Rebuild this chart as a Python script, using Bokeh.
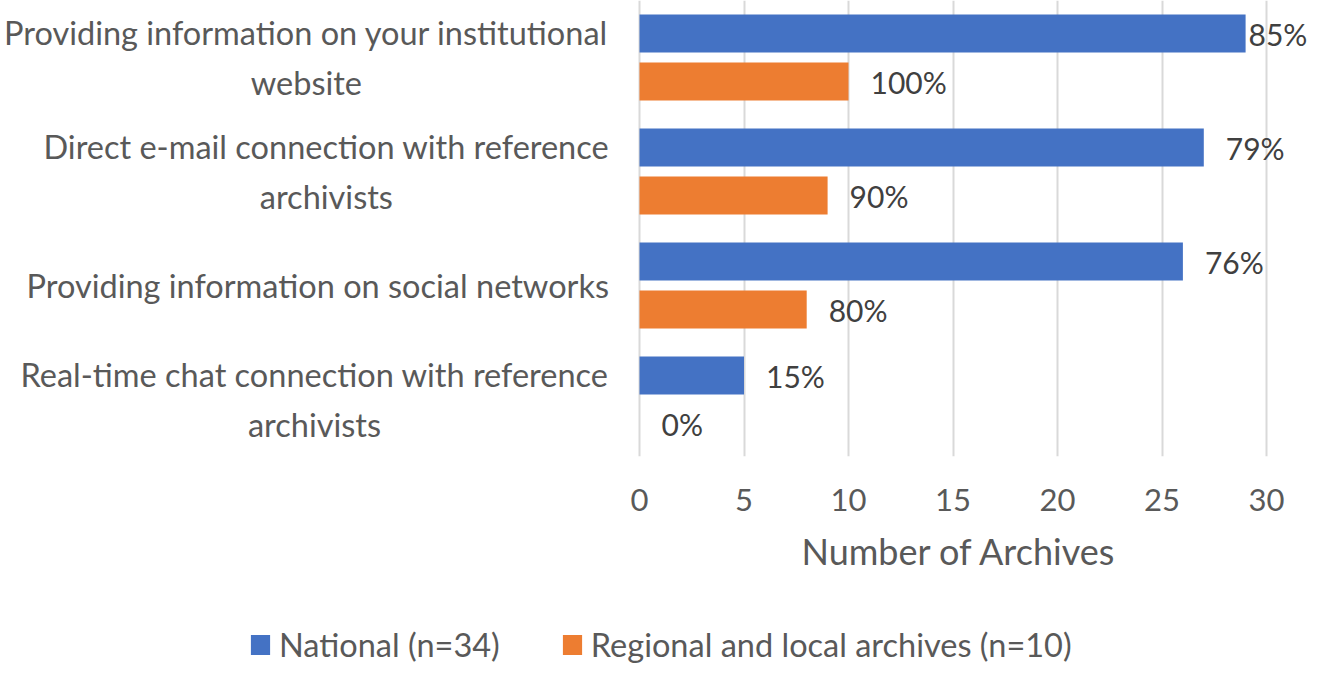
from bokeh.plotting import figure
from bokeh.models import ColumnDataSource, Range1d, FixedTicker, Legend, LegendItem, Title
from bokeh.layouts import column
from bokeh.transform import dodge
from bokeh.embed import file_html
from bokeh.resources import INLINE
from bokeh.core.properties import value

# ---- data ----
categories = [
    "Providing information on your institutional\nwebsite",
    "Direct e-mail connection with reference\narchivists",
    "Providing information on social networks",
    "Real-time chat connection with reference\narchivists",
]
national = [29, 27, 26, 5]
regional = [10, 9, 8, 0]
national_pct = ["85%", "79%", "76%", "15%"]
regional_pct = ["100%", "90%", "80%", "0%"]
series_names = ["National (n=34)", "Regional and local archives (n=10)"]
x_ticks = [0, 5, 10, 15, 20, 25, 30]
x_title = "Number of Archives"

# ---- style ----
FONT = "Lato"
BLUE = "#4472C4"
ORANGE = "#ED7D31"
GREY_TXT = "#595959"
DARK_TXT = "#404040"
CAT_FS = 32.5
# approximate width (in em) of the widest line of each category label in Lato
label_em = [18.53, 17.30, 17.83, 18.03]

n = len(categories)
ypos = [n - 1 - i for i in range(n)]

W = 1307
H_MAIN, H_LEG = 616, 50
ZERO = 639          # pixel position of x = 0
PPU = 20.9          # pixels per unit
FRAME_H = 456
LABEL_RIGHT = 607   # right edge of category labels

def lab_offsets(vals):
    out = []
    for v in vals:
        room = (W - ZERO) - v * PPU - 59
        out.append(min(22, room))
    return out

src = ColumnDataSource(dict(
    y=ypos, national=national, regional=regional,
    npct=national_pct, rpct=regional_pct,
    noff=lab_offsets(national), roff=lab_offsets(regional),
))
cat_src = ColumnDataSource(dict(
    y=ypos, text=categories,
    xo=[(LABEL_RIGHT - ZERO) - e * CAT_FS / 2 for e in label_em],
))

p = figure(width=W, height=H_MAIN, output_backend="svg", toolbar_location=None,
           x_range=Range1d(-ZERO / PPU, (W - ZERO) / PPU), y_range=Range1d(-0.5, n - 0.5),
           y_axis_location=None,
           min_border_left=0, min_border_right=0, min_border_top=0,
           min_border_bottom=H_MAIN - FRAME_H)
p.outline_line_color = None
p.background_fill_color = "white"
p.border_fill_color = "white"

off = 24 / 114.0
bh = 38 / 114.0
r1 = p.hbar(y=dodge("y", off, range=p.y_range), right="national", left=0, height=bh,
            source=src, fill_color=BLUE, line_color=None)
r2 = p.hbar(y=dodge("y", -off, range=p.y_range), right="regional", left=0, height=bh,
            source=src, fill_color=ORANGE, line_color=None)

p.text(x="national", y=dodge("y", off, range=p.y_range), text="npct", source=src,
       x_offset="noff", text_align="left", text_baseline="middle",
       text_font=value(FONT), text_font_size="30px", text_color=DARK_TXT)
p.text(x="regional", y=dodge("y", -off, range=p.y_range), text="rpct", source=src,
       x_offset="roff", text_align="left", text_baseline="middle",
       text_font=value(FONT), text_font_size="30px", text_color=DARK_TXT)

# category labels (right-aligned block, centred lines)
p.text(x=0, y="y", text="text", x_offset="xo", source=cat_src,
       text_align="center", text_baseline="middle", text_line_height=1.3,
       text_font=value(FONT), text_font_size=f"{CAT_FS}px", text_color=GREY_TXT)

# x axis
p.xaxis.ticker = FixedTicker(ticks=x_ticks)
p.xaxis.axis_line_color = None
p.xaxis.major_tick_line_color = None
p.xaxis.minor_tick_line_color = None
p.xaxis.major_label_text_font = FONT
p.xaxis.major_label_text_font_size = "31px"
p.xaxis.major_label_text_color = GREY_TXT
p.xaxis.major_label_standoff = 26

p.xgrid.ticker = FixedTicker(ticks=x_ticks)
p.xgrid.grid_line_color = "#d9d9d9"
p.xgrid.grid_line_width = 2
p.ygrid.grid_line_color = None

title = Title(text=x_title, align="left", offset=801, standoff=27,
              text_font=FONT, text_font_size="36px", text_font_style="normal",
              text_color=GREY_TXT)
p.add_layout(title, "below")

# legend in its own strip
lf = figure(width=W, height=H_LEG, output_backend="svg", toolbar_location=None,
            x_range=Range1d(0, 1), y_range=Range1d(0, 1),
            x_axis_location=None, y_axis_location=None,
            min_border_left=0, min_border_right=0, min_border_top=0, min_border_bottom=0)
lf.outline_line_color = None
lf.xgrid.grid_line_color = None
lf.ygrid.grid_line_color = None
lf.background_fill_color = "white"
lf.border_fill_color = "white"
d1 = lf.hbar(y=[-10], right=[-10], left=-11, height=1, fill_color=BLUE, line_color=None)
d2 = lf.hbar(y=[-10], right=[-10], left=-11, height=1, fill_color=ORANGE, line_color=None)
legend = Legend(items=[LegendItem(label=series_names[0], renderers=[d1]),
                       LegendItem(label=series_names[1], renderers=[d2])],
                orientation="horizontal", location=(248, 2),
                padding=0, margin=0, spacing=60, label_standoff=7,
                glyph_width=24, glyph_height=25, label_height=30,
                border_line_color=None, background_fill_alpha=0,
                label_text_font=FONT, label_text_font_size=f"{CAT_FS}px",
                label_text_color=GREY_TXT, label_text_baseline="middle")
lf.add_layout(legend, "center")

open("out.html", "w").write(file_html(column(p, lf, spacing=0), INLINE))
